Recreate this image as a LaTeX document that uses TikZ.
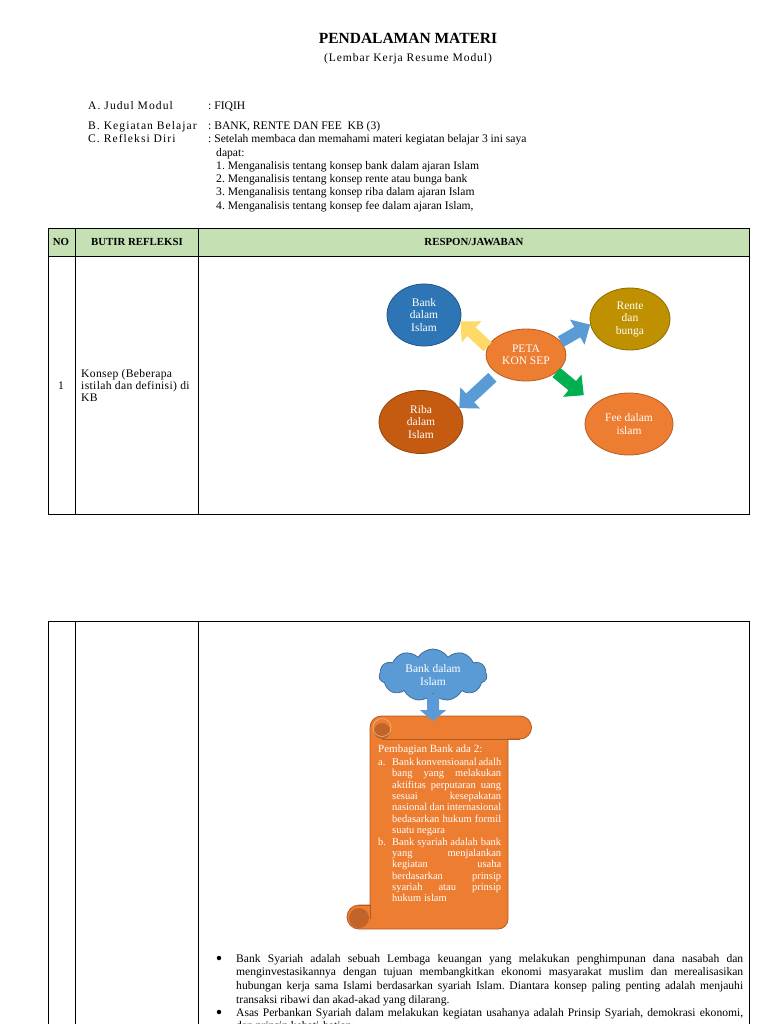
\documentclass[tikz,border=0pt]{standalone}
\usepackage{fontspec}
\setmainfont{Liberation Serif}
\usetikzlibrary{
  arrows.meta,
  shapes.geometric,
  shapes.symbols
}
\frenchspacing
\definecolor{headgreen}{HTML}{C5E0B3}
\definecolor{bankblue}{HTML}{2E75B6}
\definecolor{arrowblue}{HTML}{5B9BD5}
\definecolor{rentegold}{HTML}{BF9000}
\definecolor{petaorange}{HTML}{ED7D31}
\definecolor{ribabrown}{HTML}{C55A11}
\definecolor{arrowyellow}{HTML}{FFD966}
\definecolor{arrowgreen}{HTML}{00B050}
\definecolor{scrolledge}{HTML}{AE5A21}
\definecolor{scrollcurl}{HTML}{C0642A}
\tikzset{
  % For the lines of both tables.
  table line/.style={
    line width=1pt},
%
  % For ordinary lines of text, placed on their baseline.
  plain text/.style={
    anchor=base west,
    inner sep=0pt,
    font=\fontsize{11.6}{13}\selectfont},
%
  % For the letter-spaced labels.
  spaced text/.style={
    font=\fontsize{11.6}{13}\selectfont\addfontfeature{LetterSpace=9}},
%
  % For the table heading.
  head text/.style={
    inner sep=0pt,
    font=\fontsize{10.8}{12}\selectfont\bfseries},
%
  % For the bubbles of the concept map.
  bubble/.style={
    ellipse,
    draw=#1!75!black,
    fill=#1,
    line width=0.8pt,
    inner sep=0pt,
    align=center,
    text=white,
    font=\fontsize{11.5}{12.5}\selectfont},
%
  % For the fat arrows.
  fat arrow/.style={
    draw=#1,
    line width=12pt,
    -{Triangle[width=28pt,length=15pt]}},
%
  % For the lines inside the scroll.
  scroll text/.style={
    anchor=base west,
    inner sep=0pt,
    text=white,
    font=\fontsize{10.5}{11}\selectfont},
%
  % For the bullet dots.
  dot/.style={
    circle,
    fill,
    inner sep=0pt,
    minimum size=4.5pt},
}

\begin{document}
\begin{tikzpicture}[x=1pt,y=-1pt]
  \useasboundingbox (0,0) rectangle (768,1024);

  % Heading of the sheet.
  \node[anchor=base, inner sep=0pt, font=\fontsize{15.5}{18}\selectfont\bfseries]
    (title) at (408,44) {PENDALAMAN MATERI};
  \node[anchor=base, inner sep=0pt, font=\fontsize{11.6}{13}\selectfont\addfontfeature{LetterSpace=8}]
    (subtitle) at (408,62) {(Lembar Kerja Resume Modul)};

  \node[plain text, spaced text] (judul) at (88,110) {A. Judul Modul};
  \node[plain text] (judulval) at (208,110) {: FIQIH};
  \node[plain text, spaced text] (kegiatan) at (88,130) {B. Kegiatan Belajar};
  \node[plain text] (kegiatanval) at (208,130) {: BANK, RENTE DAN FEE\ \ KB (3)};
  \node[plain text, spaced text] (refleksi) at (88,143) {C. Refleksi Diri};
  \node[plain text] (refleksival) at (208,143)
    {: Setelah membaca dan memahami materi kegiatan belajar 3 ini saya};
  \node[plain text] (dapat) at (216,157) {dapat:};
  \node[plain text] (tujuan1) at (216,170) {1. Menganalisis tentang konsep bank dalam ajaran Islam};
  \node[plain text] (tujuan2) at (216,183) {2. Menganalisis tentang konsep rente atau bunga bank};
  \node[plain text] (tujuan3) at (216,196) {3. Menganalisis tentang konsep riba dalam ajaran Islam};
  \node[plain text] (tujuan4) at (216,210) {4. Menganalisis tentang konsep fee dalam ajaran Islam,};

  % First table.
  \fill[headgreen] (48,229) rectangle (749,256);
  \draw[table line] (48,229) rectangle (749,514);
  \draw[table line] (48,256) -- (749,256);
  \draw[table line] (75,229) -- (75,514);
  \draw[table line] (198,229) -- (198,514);

  \node[head text] (headno) at (61,242) {NO};
  \node[head text] (headbutir) at (137,242) {BUTIR REFLEKSI};
  \node[head text] (headrespon) at (474,242) {RESPON/JAWABAN};

  \node[plain text] (no1) at (58,389) {1};
  \node[plain text, font=\fontsize{11.6}{13}\selectfont\addfontfeature{LetterSpace=3}]
    (butir1a) at (81,377) {Konsep (Beberapa};
  \node[plain text, font=\fontsize{11.6}{13}\selectfont\addfontfeature{LetterSpace=3}]
    (butir1b) at (81,389) {istilah dan definisi) di};
  \node[plain text, font=\fontsize{11.6}{13}\selectfont\addfontfeature{LetterSpace=3}]
    (butir1c) at (81,401) {KB};

  % Concept map.
  \node[bubble=petaorange, minimum width=80pt, minimum height=52pt] (peta) at (526,355) {PETA\\KON SEP};
  \node[bubble=bankblue, minimum width=74pt, minimum height=62pt] (bank) at (424,315) {Bank\\dalam\\Islam};
  \node[bubble=rentegold, minimum width=80pt, minimum height=62pt] (rente) at (630,319) {Rente\\dan\\bunga};
  \node[bubble=ribabrown, minimum width=84pt, minimum height=63pt] (riba) at (421,422) {Riba\\dalam\\Islam};
  \node[bubble=petaorange, minimum width=88pt, minimum height=62pt] (fee) at (629,424) {Fee dalam\\islam};

  \draw[fat arrow=arrowyellow] (peta.168) -- (bank.-10);
  \draw[fat arrow=arrowblue] (peta.21) -- (rente.188);
  \draw[fat arrow=arrowblue, shorten <=6pt] (peta.212) -- (riba.20);
  \draw[fat arrow=arrowgreen, shorten >=14pt] (peta.-30) -- (fee.150);

  % Second table, running on below the page.
  \draw[table line] (48,1030) -- (48,621) -- (749,621) -- (749,1030);
  \draw[table line] (75,621) -- (75,1030);
  \draw[table line] (198,621) -- (198,1030);

  % Cloud and scroll.
  \node[cloud, cloud puffs=11, cloud puff arc=115, aspect=2.2, draw=arrowblue!70!black, fill=arrowblue,
    line width=0.8pt, minimum width=108pt, minimum height=52pt, inner sep=0pt, align=center,
    text=white, font=\fontsize{11.5}{13}\selectfont] (bankcloud) at (433,675) {Bank dalam\\Islam};
  \coordinate (scrolltop) at (433,721);

  \draw[fill=petaorange, draw=scrolledge, line width=0.8pt]
    (382,716) -- (520,716) arc (270:450:11.5) -- (508,739) -- (508,919)
    arc (0:90:10) -- (359,929) arc (90:270:12) -- (370,905) -- (370,727.5)
    arc (180:270:11.5) -- cycle;
  \draw[scrolledge, line width=0.6pt] (382,739) -- (520,739);
  \draw[scrolledge, line width=0.6pt] (359,905) -- (370,905);
  \fill[scrollcurl] (382,731) circle (8);
  \draw[petaorange!60!white, line width=0.6pt] (382,727.5) circle (9);
  \fill[scrollcurl] (359,918) circle (10);
  \draw[scrolledge, line width=0.6pt] (370,905) -- (370,919);

  \draw[fat arrow=arrowblue, line width=12pt, -{Triangle[width=26pt,length=11pt]}]
    (bankcloud.south) -- (scrolltop);

  \node[scroll text, font=\fontsize{11}{11}\selectfont] (bagian) at (378,752) {Pembagian Bank ada 2:};
  \node[scroll text] (itema) at (378,765) {a.};
  \node[scroll text] (a1) at (392,765) {\makebox[109pt][s]{Bank konvensioanal adalh}};
  \node[scroll text] (a2) at (392,776) {\makebox[109pt][s]{bang yang melakukan}};
  \node[scroll text] (a3) at (392,788) {\makebox[109pt][s]{aktifitas perputaran uang}};
  \node[scroll text] (a4) at (392,799) {\makebox[109pt][s]{sesuai kesepakatan}};
  \node[scroll text] (a5) at (392,810) {\makebox[109pt][s]{nasional dan internasional}};
  \node[scroll text] (a6) at (392,822) {\makebox[109pt][s]{bedasarkan hukum formil}};
  \node[scroll text] (a7) at (392,833) {suatu negara};
  \node[scroll text] (itemb) at (378,845) {b.};
  \node[scroll text] (b1) at (392,845) {\makebox[109pt][s]{Bank syariah adalah bank}};
  \node[scroll text] (b2) at (392,856) {\makebox[109pt][s]{yang menjalankan}};
  \node[scroll text] (b3) at (392,867) {\makebox[109pt][s]{kegiatan usaha}};
  \node[scroll text] (b4) at (392,879) {\makebox[109pt][s]{berdasarkan prinsip}};
  \node[scroll text] (b5) at (392,890) {\makebox[109pt][s]{syariah atau prinsip}};
  \node[scroll text] (b6) at (392,901) {hukum islam};

  % Bullets under the scroll.
  \node[dot] (bullet1) at (219,958) {};
  \node[plain text] (syariah1) at (236,962)
    {\makebox[507pt][s]{Bank Syariah adalah sebuah Lembaga keuangan yang melakukan penghimpunan dana nasabah dan}};
  \node[plain text] (syariah2) at (236,975)
    {\makebox[507pt][s]{menginvestasikannya dengan tujuan membangkitkan ekonomi masyarakat muslim dan merealisasikan}};
  \node[plain text] (syariah3) at (236,989)
    {\makebox[507pt][s]{hubungan kerja sama Islami berdasarkan syariah Islam. Diantara konsep paling penting adalah menjauhi}};
  \node[plain text] (syariah4) at (236,1003) {transaksi ribawi dan akad-akad yang dilarang.};
  \node[dot] (bullet2) at (219,1012) {};
  \node[plain text] (asas1) at (236,1016)
    {\makebox[507pt][s]{Asas Perbankan Syariah dalam melakukan kegiatan usahanya adalah Prinsip Syariah, demokrasi ekonomi,}};
  \node[plain text] (asas2) at (236,1029) {dan prinsip kehati-hatian.};
\end{tikzpicture}
\end{document}
